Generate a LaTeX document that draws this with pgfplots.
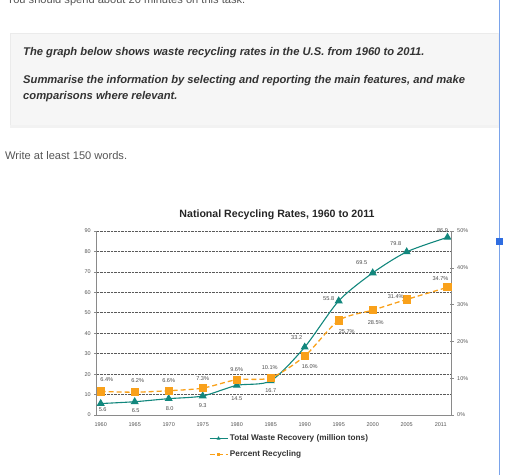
\documentclass[border=0pt]{standalone}
\usepackage{fontspec}
\setmainfont{Liberation Sans}
\usepackage{pgfplots}
\pgfplotsset{compat=1.18}
\usepackage{pgfplotstable}
\definecolor{tealc}{HTML}{12877D}
\definecolor{orangec}{HTML}{F9A11B}
\definecolor{labgray}{HTML}{4A4A4A}
\definecolor{axgray}{HTML}{8A8A8A}
\definecolor{gridgray}{HTML}{5A5A5A}
\definecolor{boxfill}{HTML}{F6F6F6}
\definecolor{txt}{HTML}{333333}
\definecolor{txtlight}{HTML}{555555}
\definecolor{blueline}{HTML}{7AA3EA}
\definecolor{bluesq}{HTML}{2F6DE1}

\pgfplotstableread{
x y lab dx dy
1960 5.6 5.6 2 -6.5
1965 6.5 6.5 1 -8.5
1970 8.0 8.0 1 -10
1975 9.3 9.3 0 -10
1980 14.5 14.5 0 -13
1985 16.7 16.7 0 -10
1990 33.2 33.2 -8 10
1995 55.8 55.8 -10 2.5
2000 69.5 69.5 -11 10
2005 79.8 79.8 -11 8
2011 86.9 86.9 -5 7
}\totaltab

\pgfplotstableread{
x y lab dx dy
1960 6.4 6.4 6 11.5
1965 6.2 6.2 3 11.5
1970 6.6 6.6 0 10
1975 7.3 7.3 0 10
1980 9.6 9.6 0 10.5
1985 10.1 10.1 -1 10
1990 16.0 16.0 5 -10.5
1995 25.7 25.7 8 -11
2000 28.5 28.5 3 -12
2005 31.4 31.4 -11 3
2011 34.7 34.7 -7 9
}\pcttab

\pgfplotsset{
  totalstyle/.style={color=tealc, line width=1.1pt, mark=triangle*, mark size=3.6pt,
     mark options={solid, fill=tealc, draw=tealc}},
  pctstyle/.style={color=orangec, line width=1.3pt, dash pattern=on 5pt off 3pt,
     mark=square*, mark size=3.5pt, mark options={solid, fill=orangec, draw=orangec}},
  common/.style={
    at={(96.7pt,60pt)}, anchor=south west, scale only axis,
    width=355pt, height=184pt,
    xmin=1959.41, xmax=2011.62,
    tick label style={font=\fontsize{5.5}{6}\selectfont, text=txtlight},
    /pgf/number format/assume math mode=true,
    axis line style={draw=axgray, line width=0.7pt},
    tick style={draw=axgray, line width=0.6pt},
    major tick length=2.5pt,
    clip=false,
  },
  labstyle/.style={
    point meta=explicit symbolic,
    visualization depends on={\thisrow{dx}\as\dx},
    visualization depends on={\thisrow{dy}\as\dy},
    nodes near coords style={anchor=center, xshift=\dx pt, yshift=\dy pt,
      font=\fontsize{5.6}{6}\selectfont, text=labgray, inner sep=0pt},
  },
}

\begin{document}
\begin{tikzpicture}
% header text (clipped at top edge)
\begin{scope}
\clip (0pt,0pt) rectangle (512pt,475pt);
\node[anchor=base west, inner sep=0pt, text=txtlight, font=\fontsize{11.1}{13}\selectfont] at (6.7pt,471.5pt) {You should spend about 20 minutes on this task.};
\end{scope}
% box with shadow
\fill[black!10] (10.5pt,348pt) rectangle (498.5pt,441pt);
\fill[black!5] (10pt,346.5pt) rectangle (499pt,441.5pt);
\fill[boxfill] (10pt,350pt) rectangle (498pt,442pt);
\draw[black!8, line width=0.5pt] (10pt,350pt) -- (10pt,442pt) -- (498pt,442pt);
\node[anchor=base west, inner sep=0pt, text=txt, font=\fontsize{11.2}{13}\selectfont\bfseries\itshape] at (23pt,419.5pt) {The graph below shows waste recycling rates in the U.S. from 1960 to 2011.};
\node[anchor=base west, inner sep=0pt, text=txt, font=\fontsize{11.2}{13}\selectfont\bfseries\itshape] at (23pt,391.5pt) {Summarise the information by selecting and reporting the main features, and make};
\node[anchor=base west, inner sep=0pt, text=txt, font=\fontsize{11.2}{13}\selectfont\bfseries\itshape] at (23pt,375.5pt) {comparisons where relevant.};
\node[anchor=base west, inner sep=0pt, text=txtlight, font=\fontsize{11.1}{13}\selectfont] at (5pt,315.5pt) {Write at least 150 words.};
% blue line and square
\draw[blueline, line width=1pt] (499pt,0pt) -- (499pt,475pt);
\fill[bluesq] (495.5pt,229.8pt) rectangle (502.5pt,236.8pt);
% title
\node[text=black!85, font=\fontsize{10.6}{12}\selectfont\bfseries] at (277pt,260pt) {National Recycling Rates, 1960 to 2011};

\begin{axis}[common,
  ymin=0, ymax=90,
  axis x line*=bottom, axis y line*=left,
  xtick={1960,1965,...,2010},
  xticklabels={1960,1965,1970,1975,1980,1985,1990,1995,2000,2005,2011},
  xtick style={draw=none},
  ytick={0,10,...,90},
  tick align=outside,
  ymajorgrids,
  grid style={draw=gridgray, line width=0.6pt, dash pattern=on 0.7pt off 0.7pt},
  xticklabel style={yshift=-2pt},
]
\addplot[totalstyle, smooth, tension=0.45, labstyle, nodes near coords]
  table[x=x, y=y, meta=lab] {\totaltab};
\end{axis}

\begin{axis}[common,
  ymin=0, ymax=50,
  axis x line=none, axis y line*=right,
  ytick={0,10,...,50},
  yticklabel={\pgfmathprintnumber{\tick}\%},
  tick align=center, major tick length=4pt,
  legend style={at={(0.316,-0.095)}, anchor=north west, draw=none, fill=none,
    font=\fontsize{8.2}{9}\selectfont\bfseries, text=black!80, inner sep=0pt,
    row sep=4.5pt, cells={anchor=west}},
  legend image code/.code={
    \draw[mark repeat=2, mark phase=2, #1, mark size=1.3pt, line width=0.9pt]
      plot coordinates {(0pt,0pt) (9pt,0pt) (18pt,0pt)};
  },
]
\addlegendimage{totalstyle}
\addlegendentry{Total Waste Recovery (million tons)}
\addplot[pctstyle, smooth, tension=0.45, labstyle,
  nodes near coords={\pgfplotspointmeta\%}]
  table[x=x, y=y, meta=lab] {\pcttab};
\addlegendentry{Percent Recycling}
\end{axis}
\pgfresetboundingbox
\useasboundingbox (0pt,0pt) rectangle (512pt,475pt);
\end{tikzpicture}
\end{document}
